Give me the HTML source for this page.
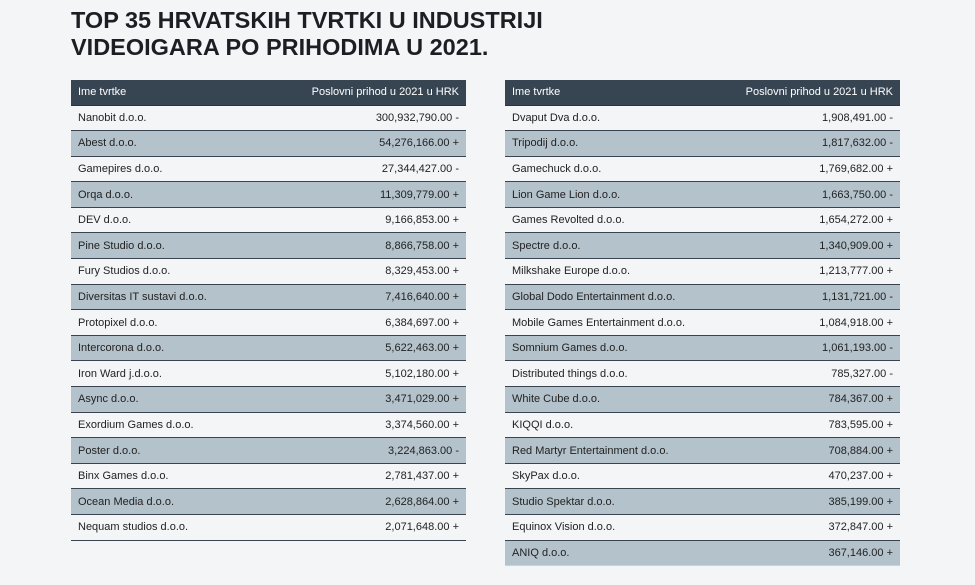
<!DOCTYPE html><html><head><meta charset="utf-8"><style>
body{margin:0;width:975px;height:585px;background:#f4f5f7;font-family:"Liberation Sans",sans-serif;position:relative;overflow:hidden}
h1{position:absolute;left:71px;top:7px;margin:0;font-size:23.5px;line-height:27px;font-weight:bold;color:#1b1f24;letter-spacing:0}
.t{position:absolute;top:80px;width:395px}
.r{height:24.6px;border-bottom:1px solid #3a4350;display:flex;justify-content:space-between;align-items:center;padding:0 7px;font-size:11px;color:#222}
.r:nth-child(odd){background:#b4c2cb}
.r.h{background:#374553;color:#fff;border-bottom:1px solid #2a3440;height:24.5px}
.r span:last-child{text-align:right}
</style></head><body>
<h1>TOP 35 HRVATSKIH TVRTKI U INDUSTRIJI<br>VIDEOIGARA PO PRIHODIMA U 2021.</h1>
<div class="t" style="left:71px">
<div class="r h"><span>Ime tvrtke</span><span>Poslovni prihod u 2021 u HRK</span></div>
<div class="r" style="background:#f4f5f7"><span>Nanobit d.o.o.</span><span>300,932,790.00 -</span></div>
<div class="r"><span>Abest d.o.o.</span><span>54,276,166.00 +</span></div>
<div class="r"><span>Gamepires d.o.o.</span><span>27,344,427.00 -</span></div>
<div class="r"><span>Orqa d.o.o.</span><span>11,309,779.00 +</span></div>
<div class="r"><span>DEV d.o.o.</span><span>9,166,853.00 +</span></div>
<div class="r"><span>Pine Studio d.o.o.</span><span>8,866,758.00 +</span></div>
<div class="r"><span>Fury Studios d.o.o.</span><span>8,329,453.00 +</span></div>
<div class="r"><span>Diversitas IT sustavi d.o.o.</span><span>7,416,640.00 +</span></div>
<div class="r"><span>Protopixel d.o.o.</span><span>6,384,697.00 +</span></div>
<div class="r"><span>Intercorona d.o.o.</span><span>5,622,463.00 +</span></div>
<div class="r"><span>Iron Ward j.d.o.o.</span><span>5,102,180.00 +</span></div>
<div class="r"><span>Async d.o.o.</span><span>3,471,029.00 +</span></div>
<div class="r"><span>Exordium Games d.o.o.</span><span>3,374,560.00 +</span></div>
<div class="r"><span>Poster d.o.o.</span><span>3,224,863.00 -</span></div>
<div class="r"><span>Binx Games d.o.o.</span><span>2,781,437.00 +</span></div>
<div class="r"><span>Ocean Media d.o.o.</span><span>2,628,864.00 +</span></div>
<div class="r"><span>Nequam studios d.o.o.</span><span>2,071,648.00 +</span></div>
</div>
<div class="t" style="left:505px">
<div class="r h"><span>Ime tvrtke</span><span>Poslovni prihod u 2021 u HRK</span></div>
<div class="r" style="background:#f4f5f7"><span>Dvaput Dva d.o.o.</span><span>1,908,491.00 -</span></div>
<div class="r"><span>Tripodij d.o.o.</span><span>1,817,632.00 -</span></div>
<div class="r"><span>Gamechuck d.o.o.</span><span>1,769,682.00 +</span></div>
<div class="r"><span>Lion Game Lion d.o.o.</span><span>1,663,750.00 -</span></div>
<div class="r"><span>Games Revolted d.o.o.</span><span>1,654,272.00 +</span></div>
<div class="r"><span>Spectre d.o.o.</span><span>1,340,909.00 +</span></div>
<div class="r"><span>Milkshake Europe d.o.o.</span><span>1,213,777.00 +</span></div>
<div class="r"><span>Global Dodo Entertainment d.o.o.</span><span>1,131,721.00 -</span></div>
<div class="r"><span>Mobile Games Entertainment d.o.o.</span><span>1,084,918.00 +</span></div>
<div class="r"><span>Somnium Games d.o.o.</span><span>1,061,193.00 -</span></div>
<div class="r"><span>Distributed things d.o.o.</span><span>785,327.00 -</span></div>
<div class="r"><span>White Cube d.o.o.</span><span>784,367.00 +</span></div>
<div class="r"><span>KIQQI d.o.o.</span><span>783,595.00 +</span></div>
<div class="r"><span>Red Martyr Entertainment d.o.o.</span><span>708,884.00 +</span></div>
<div class="r"><span>SkyPax d.o.o.</span><span>470,237.00 +</span></div>
<div class="r"><span>Studio Spektar d.o.o.</span><span>385,199.00 +</span></div>
<div class="r"><span>Equinox Vision d.o.o.</span><span>372,847.00 +</span></div>
<div class="r" style="border-bottom:1px solid #c8d2d8"><span>ANIQ d.o.o.</span><span>367,146.00 +</span></div>
</div>
</body></html>
